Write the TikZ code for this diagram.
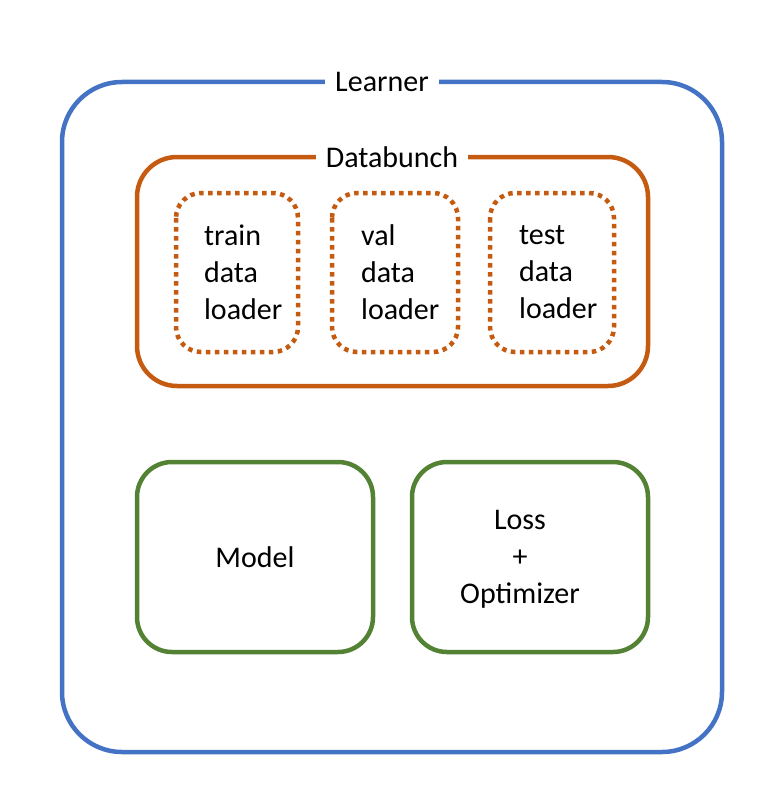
\documentclass[tikz,border=0pt]{standalone}
\usepackage{fontspec}
\setmainfont{Carlito}
\definecolor{learnerblue}{RGB}{68,114,196}
\definecolor{bunchorange}{RGB}{197,90,17}
\definecolor{partgreen}{RGB}{84,130,53}
\tikzset{every picture/.style={line width=0.75pt}}
\tikzset{
  learnerbox/.style={draw=learnerblue,line width=4.5pt,rounded corners=60pt},
  bunchbox/.style={draw=bunchorange,line width=4.5pt,rounded corners=40pt},
  loaderbox/.style={draw=bunchorange,line width=4.5pt,dash pattern=on 4.5pt off 4.5pt,rounded corners=25pt},
  partbox/.style={draw=partgreen,line width=4.5pt,rounded corners=35pt},
  txt/.style={inner sep=0.75pt,font=\fontsize{30}{37}\selectfont},
  lbl/.style={txt,fill=white,inner xsep=10pt}
}
\begin{document}
\begin{tikzpicture}[x=1pt,y=1pt,yscale=-1]
\useasboundingbox (0,0) rectangle (768,789);

%Shape: Learner
\draw [learnerbox] (62,82) rectangle (722,752);
%Shape: Databunch
\draw [bunchbox] (137,157) rectangle (648,386);
%Shape: loaders
\draw [loaderbox] (176,193) rectangle (298,352);
\draw [loaderbox] (332,193) rectangle (458,352);
\draw [loaderbox] (490,193) rectangle (614,352);
%Shape: Model, Loss
\draw [partbox] (137,462) rectangle (373,652);
\draw [partbox] (412,462) rectangle (648,652);

% Text Node
\node (learner) [lbl] at (382,82) {Learner};
% Text Node
\node (databunch) [lbl] at (392,157) {Databunch};
% Text Node
\node (train) [txt,anchor=north west,align=left] at (203,224) {train\\data\\loader};
% Text Node
\node (val) [txt,anchor=north west,align=left] at (360,224) {val\\data\\loader};
% Text Node
\node (test) [txt,anchor=north west,align=left] at (518,224) {test\\data\\loader};
% Text Node
\node (model) [txt] at (255,557) {Model};
% Text Node
\node (loss) [txt,align=center] at (520,559) {Loss\\+\\Optimizer};

\end{tikzpicture}
\end{document}
